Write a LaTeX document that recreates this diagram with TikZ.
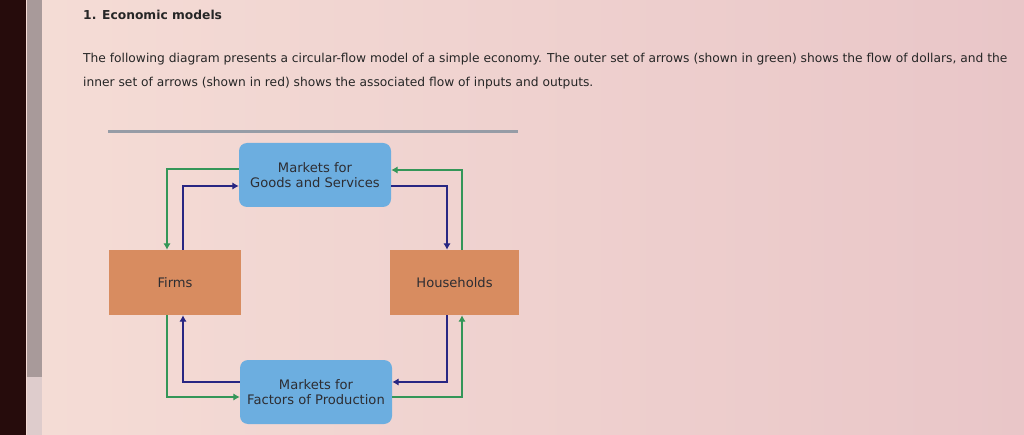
\documentclass[tikz,border=0pt]{standalone}
\usepackage{fontspec}
\setmainfont{DejaVu Sans}
\usetikzlibrary{positioning,arrows.meta}
\definecolor{pageleft}{RGB}{245,221,214}
\definecolor{pageright}{RGB}{233,198,200}
\definecolor{bezel}{RGB}{38,12,12}
\definecolor{scrollbar}{RGB}{168,154,154}
\definecolor{scrolltrack}{RGB}{222,204,204}
\definecolor{marketblue}{RGB}{108,174,224}
\definecolor{sectororange}{RGB}{216,140,96}
\definecolor{moneygreen}{RGB}{52,150,88}
\definecolor{goodsnavy}{RGB}{40,38,130}
\definecolor{rulegray}{RGB}{150,156,166}
\definecolor{boxtext}{RGB}{45,45,50}

\begin{document}
\begin{tikzpicture}[x=1pt,y=1pt,
  para/.style={anchor=west, inner sep=0pt, text=black!85,
    font=\fontsize{12.25}{14}\selectfont},
  market/.style={fill=marketblue, rounded corners=8pt, minimum width=152pt,
    minimum height=64pt, align=center, text=boxtext,
    font=\fontsize{13.1}{14.5}\selectfont},
  sector/.style={fill=sectororange, minimum height=65pt, text=boxtext,
    font=\fontsize{13.1}{14.5}\selectfont},
  money/.style={draw=moneygreen, line width=2.8pt,
    -{Latex[length=6.5pt,width=7.5pt]}},
  goods/.style={draw=goodsnavy, line width=2.8pt,
    -{Latex[length=6.5pt,width=7.5pt]}}]
  % page, screen edge and scroll bar
  \shade[left color=pageleft, right color=pageright] (0,0) rectangle (1024,-435);
  \fill[bezel] (0,0) rectangle (26,-435);
  \fill[scrollbar] (27,0) rectangle (42,-377);
  \fill[scrolltrack] (27,-377) rectangle (42,-435);
  \useasboundingbox (0,0) rectangle (1024,-435);

  % heading and text
  \node[para, font=\bfseries\fontsize{12.3}{14}\selectfont] (title) at (83,-15) {1. Economic models};
  \node[para] (line1) at (83,-59) {The following diagram presents a circular-flow model of a simple economy. The outer set of arrows (shown in green) shows the flow of dollars, and the};
  \node[para] (line2) at (83,-83) {inner set of arrows (shown in red) shows the associated flow of inputs and outputs.};
  \draw[rulegray, line width=3pt] (108,-132) -- (518,-132);

  % the four boxes
  \node[market] (goodsmkt) at (315,-175) {Markets for\\Goods and Services};
  \node[sector, minimum width=132pt] (firms) at (175,-282.5) {Firms};
  \node[sector, minimum width=129pt] (households) at (454.5,-282.5) {Households};
  \node[market] (factormkt) at (316,-392) {Markets for\\Factors of Production};

  % outer flow (dollars)
  \draw[money] ([yshift=6pt]goodsmkt.west) -| ([xshift=-8pt]firms.north);
  \draw[money] ([xshift=7.5pt]households.north) |- ([yshift=5pt]goodsmkt.east);
  \draw[money] ([xshift=-8pt]firms.south) |- ([yshift=-5pt]factormkt.west);
  \draw[money] ([yshift=-5pt]factormkt.east) -| ([xshift=7.5pt]households.south);

  % inner flow (inputs and outputs)
  \draw[goods] ([xshift=8pt]firms.north) |- ([yshift=-11pt]goodsmkt.west);
  \draw[goods] ([yshift=-11pt]goodsmkt.east) -| ([xshift=-7.5pt]households.north);
  \draw[goods] ([xshift=-7.5pt]households.south) |- ([yshift=10pt]factormkt.east);
  \draw[goods] ([yshift=10pt]factormkt.west) -| ([xshift=8pt]firms.south);
\end{tikzpicture}
\end{document}
